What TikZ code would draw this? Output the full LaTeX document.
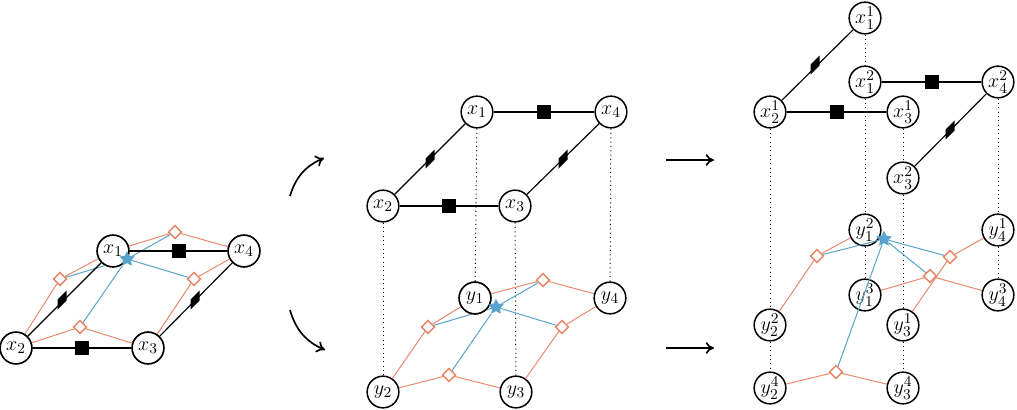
\documentclass[tikz,border=0pt]{standalone}
\usetikzlibrary{shapes.geometric,arrows.meta}
\definecolor{myor}{RGB}{232,137,106}
\definecolor{mybl}{RGB}{90,163,207}
\tikzset{
  v/.style={circle,draw,line width=0.9pt,fill=white,minimum size=19pt,inner sep=0pt,font=\fontsize{13}{14}\selectfont},
  sq/.style={rectangle,fill=black,minimum size=8.4pt,inner sep=0pt},
  dm/.style={diamond,draw=myor,line width=0.9pt,fill=white,minimum size=8pt,inner sep=0pt},
  st/.style={star,star points=5,star point ratio=2.0,fill=mybl,minimum size=9.5pt,inner sep=0pt},
  ol/.style={myor,line width=0.6pt},
  bl/.style={mybl,line width=0.6pt},
  bk/.style={black,line width=0.7pt},
  dt/.style={dotted,line width=0.6pt},
  ar/.style={-{To[length=5pt,width=7pt]},line width=1pt},
  pg/.pic={\fill (-4.5,9.5) -- (-4.5,-0.5) -- (4.5,-9.5) -- (4.5,0.5) -- cycle;}
}
\begin{document}
\begin{tikzpicture}[x=0.6pt,y=-0.6pt]
\useasboundingbox (0,0) rectangle (1017,409);
% ---------- left panel
\node[v] (a1) at (113,251) {$x_1$};
\node[v] (a4) at (244,251) {$x_4$};
\node[v] (a2) at (16,348) {$x_2$};
\node[v] (a3) at (148,348) {$x_3$};
\node[dm] (ad1) at (175,232) {};
\node[dm] (ad2) at (194,279) {};
\node[dm] (ad3) at (80,327) {};
\node[dm] (ad4) at (60,279) {};
\draw[ol] (a1) -- (ad1) -- (a4) -- (ad2) -- (a3) -- (ad3) -- (a2) -- (ad4) -- (a1);
\node[st] (as) at (127,259) {};
\foreach \d in {ad1,ad2,ad3,ad4} \draw[bl] (as) -- (\d);
\draw[bk] (a1) -- node[sq]{} (a4);
\draw[bk] (a2) -- node[sq]{} (a3);
\draw[bk] (a2) -- (a1); \draw[bk] (a3) -- (a4);
\pic at (62,300) {pg}; \pic at (195,300) {pg};
\node[v] at (113,251) {$x_1$};
\node[v] at (244,251) {$x_4$};
\node[v] at (16,348) {$x_2$};
\node[v] at (148,348) {$x_3$};
\node[st] at (127,259) {};
\node[dm] at (175,232) {};\node[dm] at (194,279) {};\node[dm] at (80,327) {};\node[dm] at (60,279) {};
% arrows
\coordinate (c1) at (290,196); \coordinate (c2) at (324,158);
\coordinate (c3) at (290,310); \coordinate (c4) at (325,350);
\draw[ar] (c1) to[bend left=25] (c2);
\draw[ar] (c3) to[bend right=25] (c4);
\coordinate (c5) at (666,160); \coordinate (c6) at (714,160);
\coordinate (c7) at (666,348); \coordinate (c8) at (714,348);
\draw[ar] (c5) -- (c6); \draw[ar] (c7) -- (c8);
% ---------- middle panel
\node[v] (b1) at (477,112) {$x_1$};
\node[v] (b4) at (611,112) {$x_4$};
\node[v] (b2) at (383,206) {$x_2$};
\node[v] (b3) at (515,206) {$x_3$};
\node[v] (y1) at (475,298) {$y_1$};
\node[v] (y4) at (610,298) {$y_4$};
\node[v] (y2) at (383,392) {$y_2$};
\node[v] (y3) at (516,392) {$y_3$};
\foreach \p/\q in {b1/y1,b2/y2,b3/y3,b4/y4} \draw[dt] (\p) -- (\q);
\draw[bk] (b1) -- node[sq]{} (b4);
\draw[bk] (b2) -- node[sq]{} (b3);
\draw[bk] (b2) -- (b1); \draw[bk] (b3) -- (b4);
\pic at (430,159) {pg}; \pic at (563,159) {pg};
\node[dm] (bd1) at (543,280) {};
\node[dm] (bd2) at (562,327) {};
\node[dm] (bd3) at (449,375) {};
\node[dm] (bd4) at (428,327) {};
\draw[ol] (y1) -- (bd1) -- (y4) -- (bd2) -- (y3) -- (bd3) -- (y2) -- (bd4) -- (y1);
\node[st] (bs) at (496,307) {};
\foreach \d in {bd1,bd2,bd3,bd4} \draw[bl] (bs) -- (\d);
\node[dm] at (543,280) {};\node[dm] at (562,327) {};\node[dm] at (449,375) {};\node[dm] at (428,327) {};
\node[v] at (475,298) {$y_1$};
\node[st] at (496,307) {};
% ---------- right panel
\node[v] (r11) at (865,18) {$x_1^1$};
\node[v] (r12) at (865,82) {$x_1^2$};
\node[v] (r42) at (998,82) {$x_4^2$};
\node[v] (r21) at (770,112) {$x_2^1$};
\node[v] (r31) at (903,112) {$x_3^1$};
\node[v] (r32) at (903,178) {$x_3^2$};
\node[v] (s12) at (865,230) {$y_1^2$};
\node[v] (s13) at (865,295) {$y_1^3$};
\node[v] (s41) at (998,230) {$y_4^1$};
\node[v] (s43) at (998,295) {$y_4^3$};
\node[v] (s22) at (770,325) {$y_2^2$};
\node[v] (s24) at (770,388) {$y_2^4$};
\node[v] (s31) at (903,325) {$y_3^1$};
\node[v] (s34) at (903,388) {$y_3^4$};
\foreach \p/\q in {r11/r12,r12/s12,s12/s13,r31/r32,r32/s31,s31/s34,r42/s41,s41/s43,r21/s22,s22/s24} \draw[dt] (\p) -- (\q);
\draw[bk] (r12) -- node[sq]{} (r42);
\draw[bk] (r21) -- node[sq]{} (r31);
\draw[bk] (r21) -- (r11); \draw[bk] (r32) -- (r42);
\pic at (815,65) {pg}; \pic at (950,130) {pg};
\node[dm] (rd1) at (817,256) {};
\node[dm] (rd2) at (950,257) {};
\node[dm] (rd3) at (930,276) {};
\node[dm] (rd4) at (836,372) {};
\draw[ol] (s22) -- (rd1) -- (s12);
\draw[ol] (s31) -- (rd2) -- (s41);
\draw[ol] (s13) -- (rd3) -- (s43);
\draw[ol] (s24) -- (rd4) -- (s34);
\node[st] (rs) at (884,239) {};
\foreach \d in {rd1,rd2,rd3,rd4} \draw[bl] (rs) -- (\d);
\node[dm] at (817,256) {};\node[dm] at (950,257) {};\node[dm] at (930,276) {};\node[dm] at (836,372) {};
\node[st] at (884,239) {};
\end{tikzpicture}
\end{document}
